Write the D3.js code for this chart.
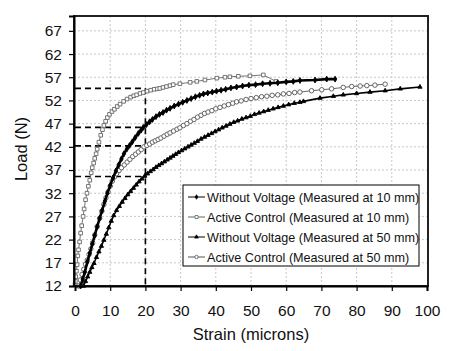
<!DOCTYPE html>
<html><head><meta charset="utf-8">
<script src="https://cdn.jsdelivr.net/npm/d3@7"></script>
<style>body{margin:0;background:#fff}svg{display:block;font-family:"Liberation Sans",Arial,sans-serif}</style>
</head><body><svg id="c" width="474" height="351"></svg>
<script>
const xTicks=[0,10,20,30,40,50,60,70,80,90,100];
const yTicks=[12,17,22,27,32,37,42,47,52,57,62,67];
const seriesNames=["Without Voltage (Measured at 10 mm)","Active Control (Measured at 10 mm)","Without Voltage (Measured at 50 mm)","Active Control (Measured at 50 mm)"];
const refLoads=[54.6,46.2,42.2,35.6];
const refStrain=20;

const wv10x=[1.6,2.2,2.8,3.5,4.2,4.9,5.6,6.3,7.0,7.7,8.5,9.2,10.0,10.8,11.6,12.4,13.2,13.9,14.7,15.5,16.3,17.1,18.0,18.8,19.4,20.3,21.2,22.0,23.0,24.0,25.0,26.0,27.0,28.2,29.4,30.6,31.8,33.0,34.2,35.4,36.5,37.7,39.0,40.2,41.5,42.8,44.3,45.9,47.6,49.4,51.3,53.3,55.4,57.6,60.0,62.0,63.9,68.2,71.5,73.9];
const wv10y=[12,13.5,15,17.2,19.1,21,22.9,24.8,26.6,28.3,30.3,32,33.7,35.3,36.8,38.1,39.4,40.5,41.5,42.3,43.1,44,44.9,45.6,46.2,46.8,47.4,47.9,48.5,49,49.4,49.9,50.3,50.8,51.2,51.6,52,52.4,52.8,53.1,53.4,53.6,53.8,54,54.2,54.4,54.7,54.9,55.1,55.3,55.4,55.6,55.7,55.8,56,56.1,56.3,56.4,56.6,56.6];

const ac10x=[0.0,0.1,0.2,0.4,0.6,0.8,1.0,1.3,1.6,1.9,2.3,2.6,3.0,3.4,3.8,4.2,4.6,4.9,5.3,5.6,6.0,6.3,6.8,7.3,7.8,8.2,8.7,9.2,9.8,10.5,11.2,12.0,12.8,13.8,14.8,15.8,16.7,17.5,18.5,19.4,20.5,21.5,22.5,23.4,24.1,25.0,26.0,27.0,27.9,29.8,32.7,34.6,36.9,40.3,42.6,44.0,46.4,49.7,53.5,57.1];
const ac10y=[12.3,13,14,15.2,16.6,18.5,19.8,21.5,23.4,25,27,28.6,30.6,32,33.5,34.8,36.4,37.5,38.5,39.5,40.5,41.5,43,44.5,45.7,46.6,47.5,48.3,49,49.6,50.1,50.7,51.2,51.8,52.3,52.7,53,53.2,53.5,53.7,54,54.2,54.4,54.5,54.6,54.8,55,55.2,55.4,55.6,55.9,56.1,56.4,56.8,57,57.1,57.2,57.3,57.5,56.1];

const wv50x=[2.4,3.0,3.6,4.2,4.8,5.4,6.1,6.8,7.5,8.2,8.9,9.6,10.3,11.0,11.8,12.6,13.4,14.2,15.0,15.8,16.6,17.4,18.2,19.0,19.8,20.6,21.4,22.2,23.0,23.8,24.6,25.4,26.2,27.0,27.8,28.6,29.4,30.3,31.2,32.1,33.0,33.9,34.8,35.8,36.8,37.8,38.8,39.8,40.8,41.8,42.9,44.0,45.1,46.2,47.4,48.6,49.8,51.0,52.3,53.6,54.9,56.3,57.7,59.2,60.7,62.3,63.9,64.9,69.6,73.4,76.2,80.0,83.8,88.1,92.4,98.0];
const wv50y=[12,13,14,15,16,16.9,18.2,19.4,20.6,21.9,23.2,24.6,26,27.2,28.3,29.2,30.1,30.9,31.7,32.4,33.1,33.8,34.5,35.1,35.7,36.2,36.7,37.1,37.6,38,38.4,38.8,39.2,39.6,40,40.4,40.8,41.2,41.6,42,42.4,42.8,43.2,43.7,44.1,44.5,44.9,45.3,45.7,46.1,46.5,46.9,47.3,47.6,48,48.3,48.6,49,49.3,49.6,49.9,50.2,50.5,50.8,51.1,51.4,51.6,51.8,52.5,52.9,53.2,53.5,53.8,54.1,54.5,54.9];

const ac50x=[1.0,1.5,2.0,2.5,3.0,3.5,4.0,4.5,5.0,5.6,6.3,7.0,7.6,8.2,8.8,9.4,10.0,10.6,11.2,11.8,12.5,13.2,14.0,14.8,15.6,16.4,17.2,18.0,18.8,19.6,20.4,21.2,22.0,22.8,23.6,24.4,25.3,26.2,27.0,28.0,29.0,29.8,30.8,31.8,32.8,33.8,34.8,35.8,36.8,37.8,38.9,40.0,41.2,42.4,43.6,44.8,45.9,47.2,48.6,50.0,51.5,53.0,54.5,56.0,57.6,59.2,60.8,62.4,63.9,67.2,70.1,72.9,76.2,78.6,81.0,82.9,85.2,88.1];
const ac50y=[12,13.3,14.5,15.6,16.7,17.6,18.8,20,21.3,23,24.8,26.6,28.1,29.6,31,32.3,33.5,34.6,35.5,36.2,36.9,37.5,38.1,38.7,39.3,39.9,40.4,40.9,41.4,42,42.3,42.6,43,43.3,43.6,43.9,44.3,44.7,45,45.4,45.8,46.1,46.6,47,47.5,47.9,48.4,48.8,49.2,49.5,49.8,50.2,50.5,50.8,51.1,51.4,51.7,51.9,52.2,52.4,52.6,52.8,52.9,53.1,53.2,53.4,53.5,53.7,53.8,54.1,54.3,54.5,54.8,55,55.1,55.2,55.3,55.5];

const svg=d3.select("#c");
const L=74,R=428,T=16,B=286;
const x=d3.scaleLinear().domain([0,100]).range([L+1,R-1]);
const y=d3.scaleLinear().domain([12,70.2]).range([B,T]);

// grid
const g=svg.append("g");
g.selectAll("line.vx").data(xTicks.slice(1,-1)).join("line")
 .attr("x1",d=>x(d)).attr("x2",d=>x(d)).attr("y1",T).attr("y2",B)
 .attr("stroke","#c8c8c8").attr("stroke-dasharray","2,2").attr("stroke-width",1);
g.selectAll("line.hy").data(yTicks.slice(1)).join("line")
 .attr("x1",L).attr("x2",R).attr("y1",d=>y(d)).attr("y2",d=>y(d))
 .attr("stroke","#c8c8c8").attr("stroke-dasharray","2,2").attr("stroke-width",1);

// reference dashed lines
svg.selectAll("line.ref").data(refLoads).join("line")
 .attr("x1",x(0)).attr("x2",x(refStrain)).attr("y1",d=>y(d)).attr("y2",d=>y(d))
 .attr("stroke","#000").attr("stroke-width",1.6).attr("stroke-dasharray","6,4");
svg.append("line").attr("x1",x(refStrain)).attr("x2",x(refStrain)).attr("y1",y(d3.max(refLoads))).attr("y2",B)
 .attr("stroke","#000").attr("stroke-width",1.6).attr("stroke-dasharray","6,4");

function pts(xs,ys){return xs.map((v,i)=>[v,ys[i]]);}
const line=d3.line().x(d=>x(d[0])).y(d=>y(d[1]));
const series=[
 {d:pts(wv10x,wv10y),lw:2.6,lc:"#000",m:"diamond",ms:10,fill:"#000",stroke:"#000"},
 {d:pts(ac10x,ac10y),lw:0.9,lc:"#666",m:"square",ms:13,fill:"#fff",stroke:"#666"},
 {d:pts(wv50x,wv50y),lw:1.6,lc:"#000",m:"triangle",ms:8,fill:"#000",stroke:"#000"},
 {d:pts(ac50x,ac50y),lw:0.9,lc:"#555",m:"circle",ms:16,fill:"#fff",stroke:"#555"}
];
const symMap={diamond:d3.symbolDiamond,square:d3.symbolSquare,triangle:d3.symbolTriangle,circle:d3.symbolCircle};
const drawOrder=[3,2,1,0];
drawOrder.forEach(i=>{
 const s=series[i];
 const gg=svg.append("g");
 gg.append("path").attr("d",line(s.d)).attr("fill","none").attr("stroke",s.lc).attr("stroke-width",s.lw);
 gg.selectAll("path.m").data(s.d).join("path")
  .attr("transform",d=>`translate(${x(d[0])},${y(d[1])})`)
  .attr("d",d3.symbol(symMap[s.m],s.ms)).attr("fill",s.fill).attr("stroke",s.stroke).attr("stroke-width",0.9);
});

// frame
svg.append("rect").attr("x",L).attr("y",T).attr("width",R-L).attr("height",B-T)
 .attr("fill","none").attr("stroke","#222").attr("stroke-width",2);

// axes
const xa=svg.append("g").attr("transform",`translate(0,${B})`)
 .call(d3.axisBottom(x).tickValues(xTicks).tickSize(5).tickPadding(14));
const ya=svg.append("g").attr("transform",`translate(${L},0)`)
 .call(d3.axisLeft(y).tickValues(yTicks).tickSize(5).tickPadding(7));
[xa,ya].forEach(a=>{a.select(".domain").attr("stroke","#000").attr("stroke-width",2);
 a.selectAll("text").attr("font-size",15.5).attr("fill","#111").attr("font-family","Liberation Sans, Arial, sans-serif");
 a.selectAll(".tick line").attr("stroke","#000").attr("stroke-width",1.2);});
xa.selectAll(".tick").filter(d=>d===0).select("line").remove();

svg.append("text").attr("x",251).attr("y",340).attr("text-anchor","middle")
 .attr("font-size",16.5).attr("fill","#111").text("Strain (microns)");
svg.append("text").attr("transform","translate(27,149) rotate(-90)").attr("text-anchor","middle")
 .attr("font-size",16.5).attr("fill","#111").text("Load (N)");

// legend
const lg=svg.append("g");
lg.append("rect").attr("x",183).attr("y",185).attr("width",236).attr("height",81)
 .attr("fill","#fff").attr("stroke","#000").attr("stroke-width",1);
seriesNames.forEach((nm,i)=>{
 const s=series[i], yy=197+i*20;
 lg.append("line").attr("x1",188).attr("x2",205).attr("y1",yy).attr("y2",yy)
  .attr("stroke",s.lc).attr("stroke-width",1);
 lg.append("path").attr("transform",`translate(196.5,${yy})`)
  .attr("d",d3.symbol(symMap[s.m],i%2?9:6)).attr("fill",s.fill).attr("stroke",s.stroke).attr("stroke-width",0.8);
 lg.append("text").attr("x",207).attr("y",yy+4.5).attr("font-size",12.6).attr("fill","#111").text(nm);
});
</script></body></html>
